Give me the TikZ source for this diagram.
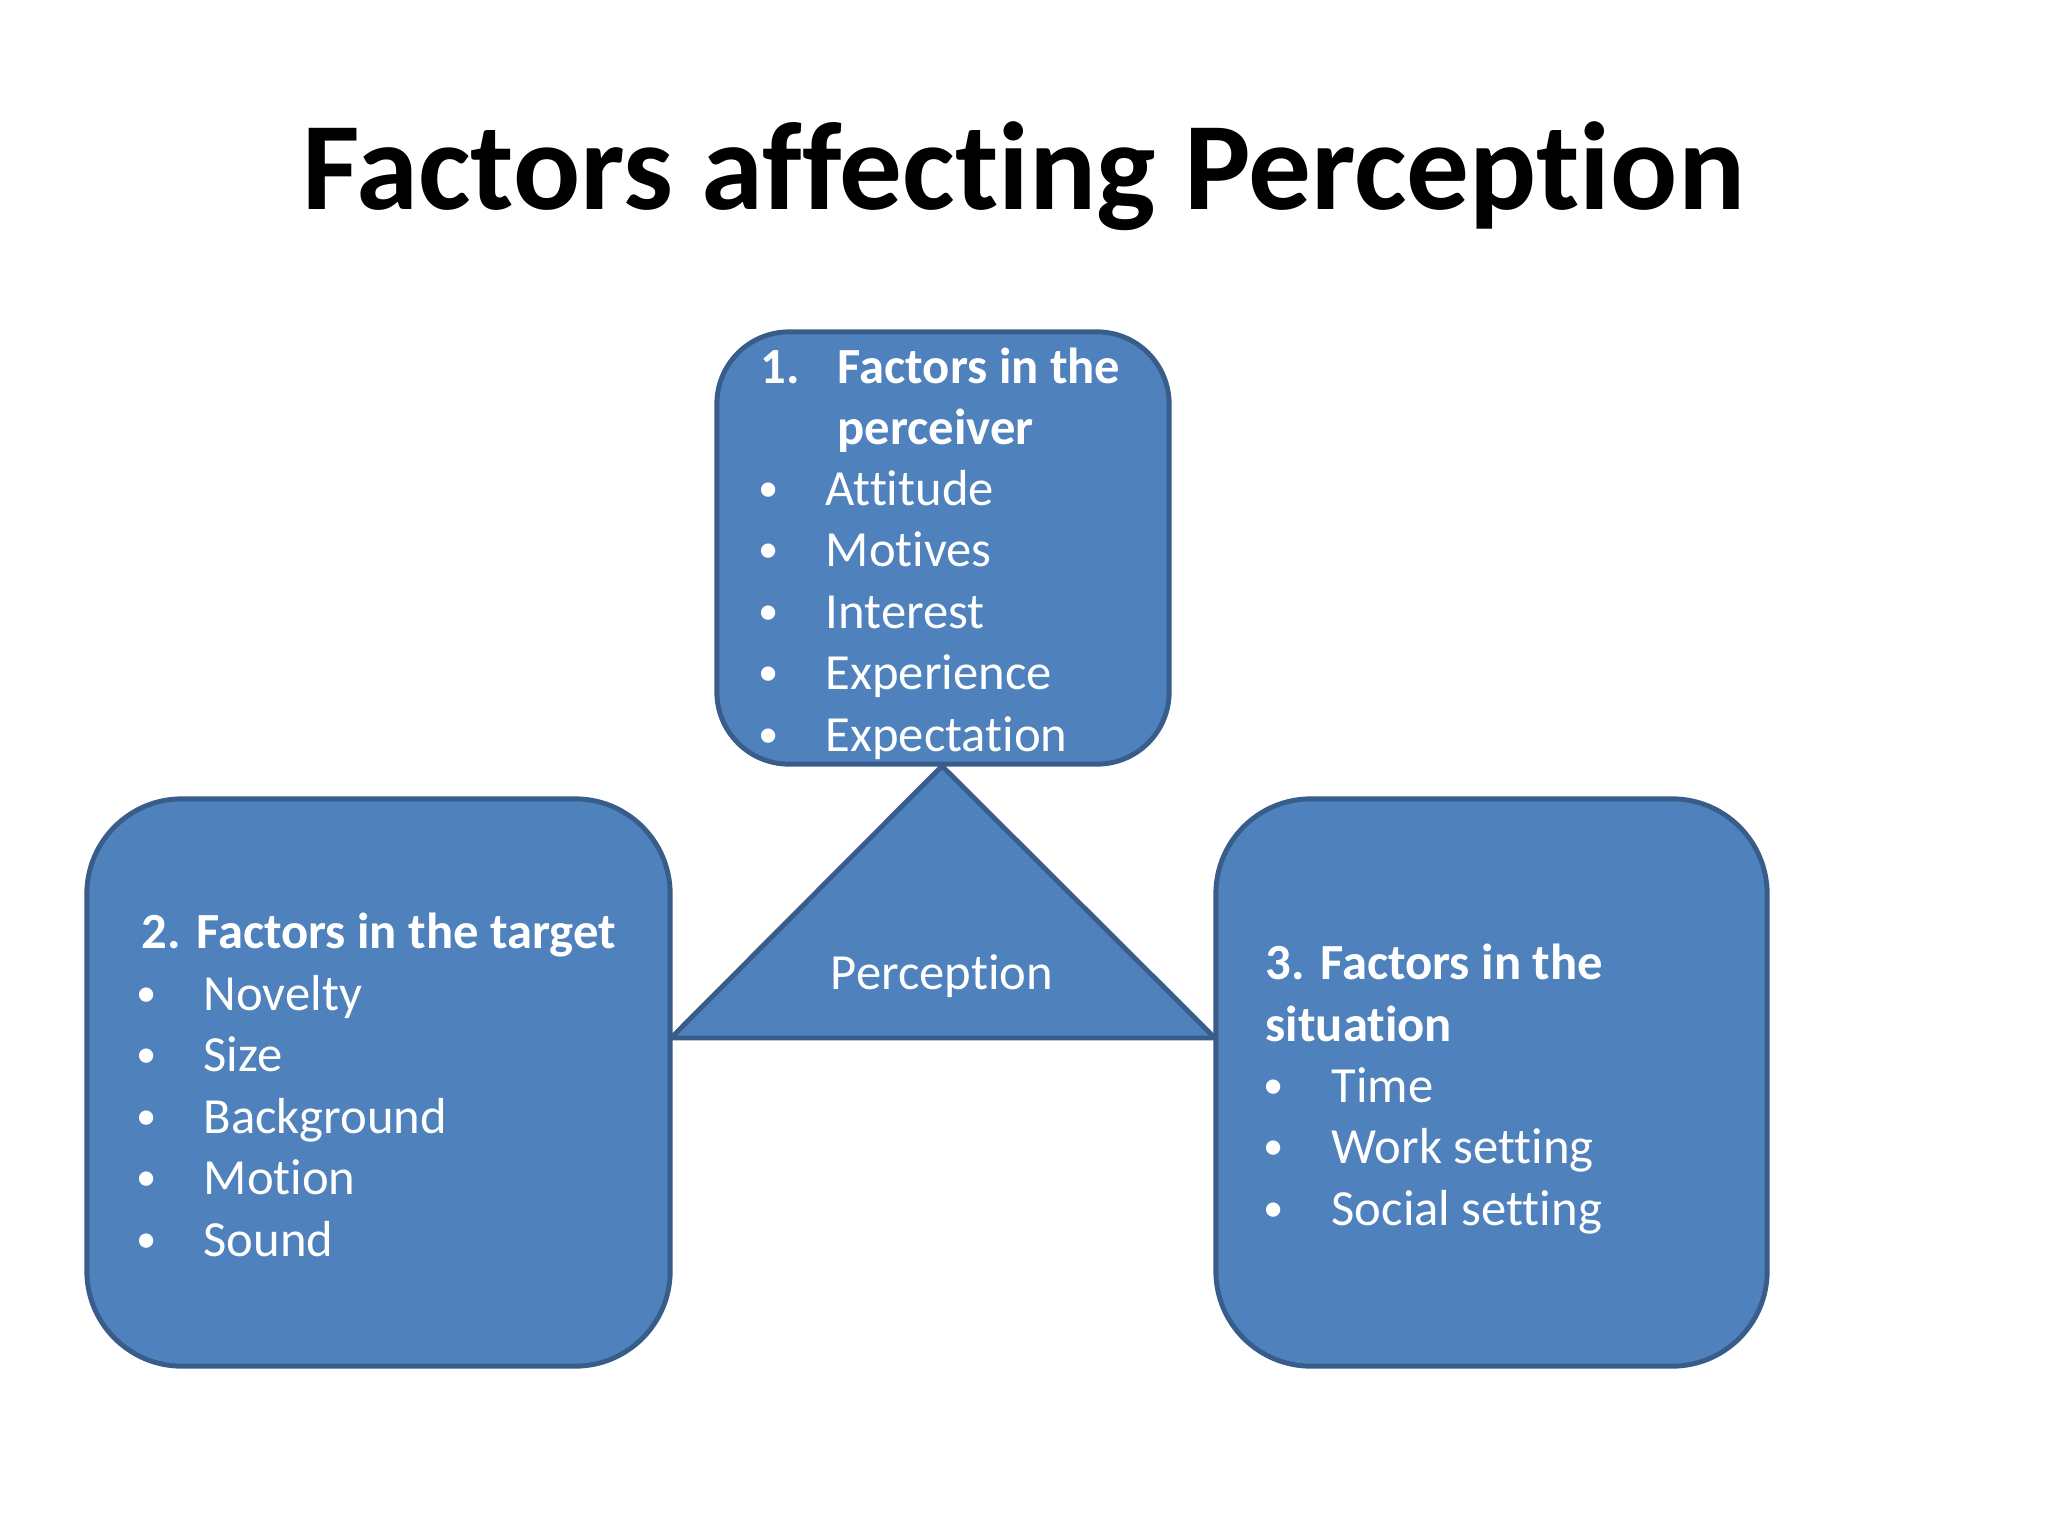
\documentclass[tikz,border=0pt]{standalone}
\usepackage{fontspec}
\setmainfont{Carlito}[Ligatures=NoCommon]
\usetikzlibrary{positioning}
\definecolor{cFill}{RGB}{79,129,189}
\definecolor{cLine}{RGB}{56,93,138}
\newcommand{\dotmark}{\raisebox{0.07em}{\scalebox{0.8}{\textbullet}}}
\tikzset{
  box/.style={draw=cLine, fill=cFill, line width=1.4pt, inner sep=0pt},
  txt/.style={text=white, inner sep=0pt, font=\fontsize{14.4}{17}\selectfont},
  item/.style={txt, anchor=base west},
  bul/.style={txt, anchor=base},
  head/.style={item, font=\fontsize{14.4}{17}\selectfont\bfseries},
}

\begin{document}
\begin{tikzpicture}[x=0.01cm, y=-0.01cm]
  \useasboundingbox[fill=white] (0,0) rectangle (2048,1536);
  % title
  \node[anchor=base, inner sep=0pt, font=\fontsize{35.6}{42}\selectfont\bfseries] (title) at (1024,209) {Factors affecting Perception};
  % triangle in the middle
  \coordinate (apex) at (942,766);
  \coordinate (baseL) at (671,1038);
  \coordinate (baseR) at (1215,1038);
  \draw[box, line join=miter] (apex) -- (baseL) -- (baseR) -- cycle;
  \node[txt, anchor=base] (percept) at (942,989) {Perception};
  % three boxes
  \node[box, rounded corners=0.72cm, minimum width=4.52cm, minimum height=4.32cm] (perceiver) at (943,548) {};
  \node[box, rounded corners=0.95cm, minimum width=5.83cm, minimum height=5.67cm] (target) at (378.5,1082.5) {};
  \node[box, rounded corners=0.95cm, minimum width=5.51cm, minimum height=5.67cm] (situation) at (1491.5,1082.5) {};
  % 1. perceiver
  \node[head] (h1n) at (760,383) {1.};
  \node[head] (h1a) at (837,383) {Factors in the};
  \node[head] (h1b) at (837,444) {perceiver};
  \foreach \w [count=\i from 0] in {Attitude,Motives,Interest,Experience,Expectation}{
    \node[bul] (pb\i) at (769,{505+61.5*\i}) {\dotmark};
    \node[item] (pi\i) at (825,{505+61.5*\i}) {\w};
  }
  % 2. target
  \node[head] (h2) at (141,948) {2. Factors in the target};
  \foreach \w [count=\i from 0] in {Novelty,Size,Background,Motion,Sound}{
    \node[bul] (tb\i) at (147,{1010+61.5*\i}) {\dotmark};
    \node[item] (ti\i) at (203,{1010+61.5*\i}) {\w};
  }
  % 3. situation
  \node[head] (h3a) at (1265,979) {3. Factors in the};
  \node[head] (h3b) at (1265,1041) {situation};
  \foreach \w [count=\i from 0] in {Time,Work setting,Social setting}{
    \node[bul] (sb\i) at (1274,{1102+61.5*\i}) {\dotmark};
    \node[item] (si\i) at (1331,{1102+61.5*\i}) {\w};
  }
\end{tikzpicture}
\end{document}
